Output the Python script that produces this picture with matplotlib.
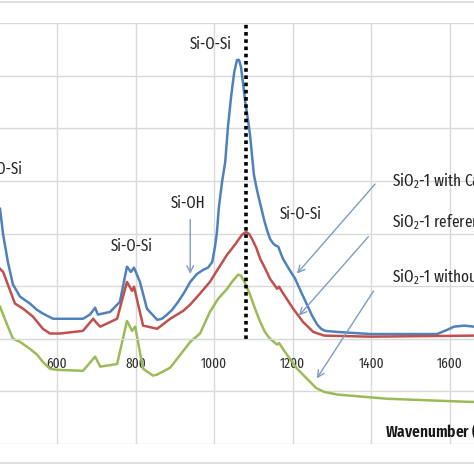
import matplotlib.pyplot as plt
from matplotlib.lines import Line2D
import numpy as np

plt.rcParams['font.family'] = ['Fira Sans Extra Condensed', 'Carlito', 'Lato', 'DejaVu Sans']
plt.rcParams['mathtext.fontset'] = 'custom'
plt.rcParams['mathtext.rm'] = 'Fira Sans Extra Condensed'
plt.rcParams['mathtext.default'] = 'rm'

# FTIR spectra (wavenumber in cm-1, absorbance a.u.)
blue_wn = [455, 463, 475, 488, 506, 531, 549, 564, 590, 666, 684, 697, 704, 735, 760,
           778, 788, 796, 811, 829, 855, 867, 880, 893, 908, 923, 939, 956, 972, 984,
           995, 1002, 1007, 1012, 1020, 1028, 1035, 1043, 1051, 1058, 1063, 1068, 1073,
           1079, 1086, 1091, 1096, 1101, 1109, 1117, 1127, 1135, 1142, 1150, 1157, 1163,
           1168, 1175, 1190, 1206, 1221, 1236, 1249, 1262, 1272, 1282, 1313, 1397, 1567,
           1593, 1610, 1636, 1661]
blue_abs = [0.247, 0.198, 0.146, 0.103, 0.080, 0.067, 0.055, 0.048, 0.038, 0.038, 0.046,
            0.059, 0.046, 0.051, 0.070, 0.137, 0.127, 0.135, 0.108, 0.057, 0.036, 0.038,
            0.046, 0.055, 0.070, 0.087, 0.108, 0.123, 0.131, 0.135, 0.146, 0.175, 0.203,
            0.251, 0.298, 0.336, 0.403, 0.460, 0.507, 0.530, 0.530, 0.517, 0.488, 0.450,
            0.416, 0.388, 0.350, 0.312, 0.282, 0.257, 0.226, 0.205, 0.190, 0.181, 0.177,
            0.175, 0.165, 0.152, 0.133, 0.114, 0.089, 0.065, 0.044, 0.027, 0.019, 0.015,
            0.013, 0.009, 0.009, 0.017, 0.023, 0.025, 0.023]

red_wn = [455, 463, 475, 493, 514, 539, 564, 582, 608, 666, 692, 702, 710, 753, 778, 791,
          796, 819, 855, 888, 921, 939, 964, 989, 1010, 1033, 1053, 1071, 1081, 1089, 1096,
          1107, 1117, 1130, 1142, 1160, 1165, 1173, 1201, 1226, 1252, 1280, 1397, 1661]
red_abs = [0.133, 0.127, 0.103, 0.067, 0.057, 0.042, 0.019, 0.010, 0.010, 0.015, 0.038,
           0.029, 0.023, 0.038, 0.108, 0.091, 0.099, 0.025, 0.019, 0.038, 0.053, 0.065,
           0.086, 0.108, 0.133, 0.160, 0.179, 0.198, 0.203, 0.199, 0.190, 0.173, 0.152,
           0.133, 0.114, 0.095, 0.099, 0.089, 0.057, 0.032, 0.013, 0.006, 0.004, 0.006]

green_wn = [455, 473, 488, 506, 531, 549, 564, 582, 600, 666, 697, 710, 753, 778, 791, 799,
            819, 844, 855, 888, 939, 964, 989, 1010, 1033, 1045, 1061, 1068, 1079, 1091,
            1104, 1117, 1129, 1142, 1160, 1165, 1180, 1211, 1244, 1260, 1280, 1313, 1440,
            1651, 1661]
green_abs = [0.061, 0.027, 0.0, -0.006, -0.019, -0.030, -0.044, -0.057, -0.059, -0.061,
             -0.034, -0.053, -0.048, 0.034, 0.015, 0.023, -0.057, -0.070, -0.068, -0.055,
             -0.006, 0.010, 0.051, 0.076, 0.095, 0.108, 0.122, 0.120, 0.105, 0.084, 0.057,
             0.032, 0.013, 0.0, -0.011, -0.008, -0.025, -0.057, -0.082, -0.094, -0.101,
             -0.106, -0.114, -0.120, -0.120]

series_labels = ['SiO$_2$-1 with Calcium', 'SiO$_2$-1 reference', 'SiO$_2$-1 without Calcium']
band_labels = ['Si-O-Si', 'Si-O-Si', 'Si-OH', 'Si-O-Si', 'Si-O-Si']
x_ticks = [600, 800, 1000, 1200, 1400, 1600]
peak_wn = 1081

fig = plt.figure(figsize=(4.74, 4.74), dpi=100)
ax = fig.add_axes([0, 0.0633, 1, 0.888])
ax.set_xlim(455, 1661)
ax.set_ylim(-0.2, 0.6)

grid_c = '#d9d9d9'
ax.set_yticks(np.arange(-0.2, 0.61, 0.1))
ax.set_yticklabels([])
ax.set_xticks(x_ticks)
ax.grid(True, color=grid_c, lw=1)
ax.set_axisbelow(True)
for s in ['left', 'right', 'top']:
    ax.spines[s].set_visible(False)
ax.spines['bottom'].set_position(('data', 0))
ax.spines['bottom'].set_color(grid_c)
ax.tick_params(axis='both', length=0)
ax.tick_params(axis='x', pad=13, labelsize=10.5, labelcolor='#333333')

ax.plot(blue_wn, blue_abs, color='#4f81bd', lw=1.8)
ax.plot(red_wn, red_abs, color='#c0504d', lw=1.8)
ax.plot(green_wn, green_abs, color='#9bbb59', lw=1.8)

ax.plot([peak_wn, peak_wn], [0, 0.6], color='black', lw=2.6, ls=(0, (1, 1)))

tc = '#262626'
fs = 11.5
ax.text(992, 0.559, band_labels[0], ha='center', va='center', fontsize=fs, color=tc)
ax.text(514, 0.323, band_labels[1], ha='right', va='center', fontsize=fs, color=tc)
ax.text(933, 0.257, band_labels[2], ha='center', va='center', fontsize=fs, color=tc)
ax.text(790, 0.175, band_labels[3], ha='center', va='center', fontsize=fs, color=tc)
ax.text(1221, 0.236, band_labels[4], ha='center', va='center', fontsize=fs, color=tc)

arrow_c = '#7f9cc0'
ax.annotate('', xy=(939, 0.118), xytext=(939, 0.232),
            arrowprops=dict(arrowstyle='->', color=arrow_c, lw=1, mutation_scale=12))

label_y = [0.300, 0.222, 0.118]
arrow_start = [(1414, 0.298), (1397, 0.198), (1409, 0.095)]
arrow_end = [(1206, 0.120), (1211, 0.040), (1257, -0.080)]
for lab, ly, st, en in zip(series_labels, label_y, arrow_start, arrow_end):
    ax.text(1453, ly, lab, ha='left', va='center', fontsize=12, color=tc)
    ax.annotate('', xy=en, xytext=st,
                arrowprops=dict(arrowstyle='->', color=arrow_c, lw=1, mutation_scale=12))

ax.text(1435, -0.177, 'Wavenumber (cm$^{-1}$)', ha='left', va='center', fontsize=12,
        color='#1a1a1a', fontweight='semibold')

# chart area border lines
for yf in [1 - 2 / 474, 1 - 463 / 474]:
    fig.add_artist(Line2D([0, 1], [yf, yf], color=grid_c, lw=1.2))

fig.savefig('out.png', dpi=100)
